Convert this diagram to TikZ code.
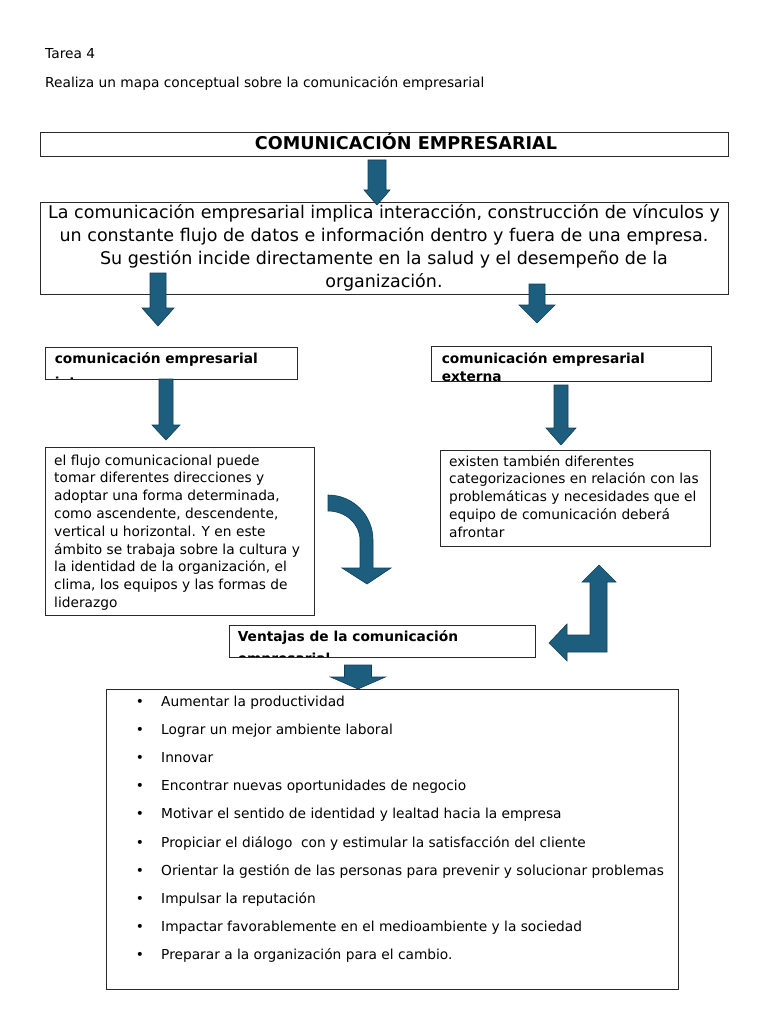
\documentclass[tikz,border=0pt]{standalone}
\usepackage{fontspec}
\setmainfont{DejaVu Sans}
\usetikzlibrary{positioning}

\definecolor{arrowfill}{HTML}{1D5E7E}
\definecolor{arrowline}{HTML}{123F56}
\definecolor{boxline}{HTML}{2A2A2A}

\newcommand{\txtfont}{\fontsize{13.75}{17.8}\selectfont}
\newcommand{\headfont}{\fontsize{13.75}{18}\selectfont\bfseries}

\tikzset{
  box/.style={draw=boxline, line width=0.8pt, inner sep=0pt, anchor=north west},
  blockarrow/.style={fill=arrowfill, draw=arrowline, line width=0.6pt},
  txt/.style={anchor=base west, inner sep=0pt, font=\txtfont, align=left},
  cliptxt/.style={txt, font=\headfont, minimum width=0pt, minimum height=0pt},
}

\begin{document}
\begin{tikzpicture}[x=1pt,y=-1pt]
    \useasboundingbox[fill=white] (0,0) rectangle (768,1024);

    % heading of the page
    \node[txt] (tarea) at (45,59) {Tarea 4};
    \node[txt] (consigna) at (45,88) {Realiza un mapa conceptual sobre la comunicación empresarial};

    % boxes (multi-line texts are anchored at the baseline of their last line)
    \node[box, minimum width=688, minimum height=24] (titulo) at (40,132) {};
    \node[anchor=base, inner sep=0pt, font=\fontsize{17.6}{20}\selectfont\bfseries] at (406,149.5) {COMUNICACIÓN EMPRESARIAL};

    \node[box, minimum width=688, minimum height=92] (intro) at (40,202) {};
    \node[anchor=base, inner sep=0pt, align=center, font=\fontsize{17.5}{23}\selectfont] at (384,287)
        {La comunicación empresarial implica interacción, construcción de vínculos y\\
         un constante flujo de datos e información dentro y fuera de una empresa.\\
         Su gestión incide directamente en la salud y el desempeño de la\\
         organización.};

    \node[box, minimum width=252, minimum height=32,
          path picture={\node[cliptxt] at ([shift={(9,40)}]path picture bounding box.north west)
          {comunicación empresarial\\[6pt]interna};}] (interna) at (45,347) {};
    \node[box, minimum width=280, minimum height=35,
          path picture={\node[cliptxt] at ([shift={(10,35.5)}]path picture bounding box.north west)
          {comunicación empresarial\\externa};}] (externa) at (431,346) {};

    \node[box, minimum width=269, minimum height=168] (flujo) at (45,447) {};
    \node[txt] at ([shift={(9,160.4)}]flujo.north west)
        {el flujo comunicacional puede\\
         tomar diferentes direcciones y\\
         adoptar una forma determinada,\\
         como ascendente, descendente,\\
         vertical u horizontal. Y en este\\
         ámbito se trabaja sobre la cultura y\\
         la identidad de la organización, el\\
         clima, los equipos y las formas de\\
         liderazgo};

    \node[box, minimum width=270, minimum height=96] (categorias) at (440,450) {};
    \node[txt] at ([shift={(9,87.2)}]categorias.north west)
        {existen también diferentes\\
         categorizaciones en relación con las\\
         problemáticas y necesidades que el\\
         equipo de comunicación deberá\\
         afrontar};

    \node[box, minimum width=306, minimum height=32,
          path picture={\node[cliptxt] at ([shift={(8,38.5)}]path picture bounding box.north west)
          {Ventajas de la comunicación\\[4pt]empresarial};}] (ventajas) at (229,625) {};

    \node[box, minimum width=572, minimum height=300] (ventajaslista) at (106,689) {};
    \foreach \item [count=\i] in {Aumentar la productividad,
        Lograr un mejor ambiente laboral,
        Innovar,
        Encontrar nuevas oportunidades de negocio,
        Motivar el sentido de identidad y lealtad hacia la empresa,
        Propiciar el diálogo\ \ con y estimular la satisfacción del cliente,
        Orientar la gestión de las personas para prevenir y solucionar problemas,
        Impulsar la reputación,
        Impactar favorablemente en el medioambiente y la sociedad,
        Preparar a la organización para el cambio.}
    {
        \node[anchor=base, inner sep=0pt, font=\txtfont] (bullet\i) at (140,{677.8+28.2*\i}) {•};
        \node[txt] (item\i) at (161,{677.8+28.2*\i}) {\item};
    }

    % straight block arrows: x / top / head start / tip / half shaft / half head
    \foreach \x/\t/\h/\e/\s/\w in {377/160/190/205/9/13, 158/273/308/326/8/16,
        537/284/305/323/8/18, 166/379/425/440/7/14, 561/385/428/445/7/15,
        358/665/677/689/13.5/27.5}
    {
        \draw[blockarrow] (\x-\s,\t) -- (\x+\s,\t) -- (\x+\s,\h) -- (\x+\w,\h) -- (\x,\e)
            -- (\x-\w,\h) -- (\x-\s,\h) -- cycle;
    }

    % bent arrow towards the advantages
    \draw[blockarrow] (328,495) arc[start angle=-90, end angle=0, radius=45] -- (373,568) -- (391,568)
        -- (367,584) -- (342,568) -- (360,568) -- (360,540)
        arc[start angle=0, end angle=-90, x radius=32, y radius=29] -- cycle;

    % L arrow between advantages and external box
    \draw[blockarrow] (599,565) -- (616,582) -- (607,582) -- (607,652) -- (567,652) -- (567,661)
        -- (549,643) -- (567,624) -- (567,635) -- (590,635) -- (590,582) -- (582,582) -- cycle;
\end{tikzpicture}
\end{document}
